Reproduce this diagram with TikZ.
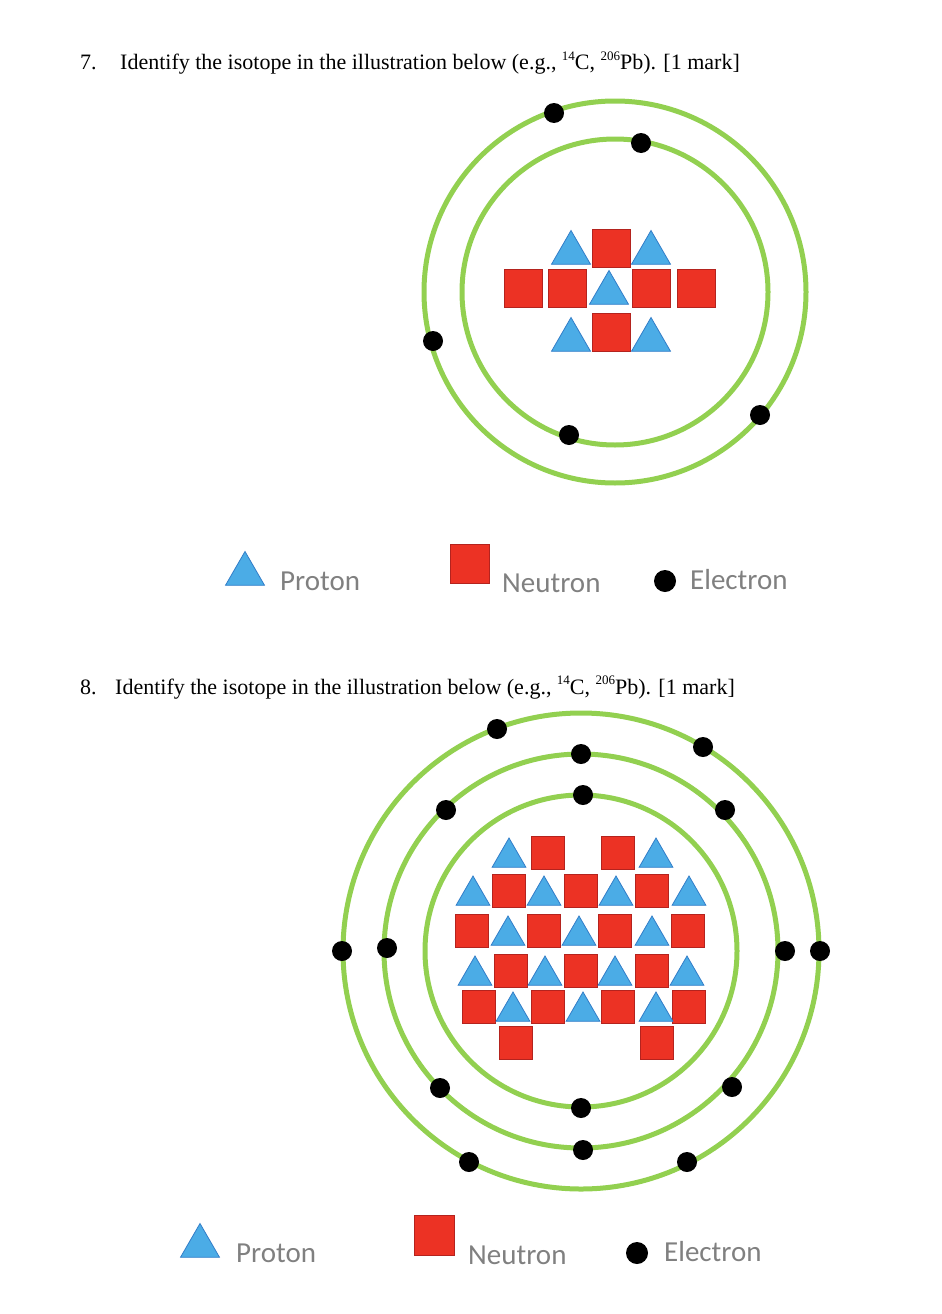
\documentclass[tikz,border=0pt]{standalone}
\usepackage{fontspec}
\setmainfont{Liberation Serif}
\newfontfamily\legfont{Carlito}
\usetikzlibrary{shapes.geometric}
\definecolor{orb}{RGB}{146,208,80}
\definecolor{pblue}{RGB}{75,172,230}
\definecolor{pblued}{RGB}{50,125,200}
\definecolor{nred}{RGB}{236,50,36}
\definecolor{nredd}{RGB}{180,35,30}
\definecolor{leg}{RGB}{128,128,128}
\newcommand{\sps}[1]{\raisebox{0.45em}{\fontsize{13}{14}\selectfont #1}}
\begin{document}
\begin{tikzpicture}[x=1pt,y=-1pt,
 orbit/.style={draw=orb,line width=5pt},
 elec/.style={circle,fill=black,inner sep=0,minimum size=20pt},
 protA/.style={regular polygon,regular polygon sides=3,fill=pblue,draw=pblued,line width=0.8pt,inner sep=0,minimum size=45pt,yshift=-5pt},
 neutA/.style={rectangle,fill=nred,draw=nredd,line width=0.8pt,inner sep=0,minimum size=38pt},
 protB/.style={regular polygon,regular polygon sides=3,fill=pblue,draw=pblued,line width=0.8pt,inner sep=0,minimum size=39pt,yshift=-4.5pt},
 neutB/.style={rectangle,fill=nred,draw=nredd,line width=0.8pt,inner sep=0,minimum size=33pt},
 qtext/.style={anchor=base west,inner sep=0,font=\fontsize{22}{26}\selectfont},
 legtext/.style={anchor=base west,inner sep=0,text=leg,font=\legfont\fontsize{29}{34}\selectfont}]
\useasboundingbox (0,0) rectangle (942,1314);
% Question 7
\node[qtext] (q7n) at (80,70) {7.};
\node[qtext] (q7) at (120,70) {Identify the isotope in the illustration below (e.g., \sps{14}C, \sps{206}Pb). [1 mark]};
\draw[orbit] (615,292) circle (191);
\draw[orbit] (615,292) circle (153);
\foreach \x/\y [count=\i] in {554/113,641/143,433/341,569/435,760/415} \node[elec] (ea\i) at (\x,\y) {};
\foreach \x/\y [count=\i] in {611/248,523/288,567/288,651/288,696/288,611/332} \node[neutA] (na\i) at (\x,\y) {};
\foreach \x/\y [count=\i] in {571/248,651/248,609/288,571/335,651/335} \node[protA] (pa\i) at (\x,\y) {};
% legend 1
\node[protA] (lp1) at (245,569) {};
\node[legtext] (lpt1) at (280,590) {Proton};
\node[neutA,minimum size=39pt] (ln1) at (470,564) {};
\node[legtext] (lnt1) at (502,592) {Neutron};
\node[elec,minimum size=22pt] (le1) at (665,581) {};
\node[legtext] (let1) at (690,589) {Electron};
% Question 8
\node[qtext] (q8n) at (80,694) {8.};
\node[qtext] (q8) at (115,694) {Identify the isotope in the illustration below (e.g., \sps{14}C, \sps{206}Pb). [1 mark]};
\draw[orbit] (581,951) circle (238);
\draw[orbit] (581,951) circle (197);
\draw[orbit] (581,951) circle (156);
\foreach \x/\y [count=\i] in {497/729,703/747,342/951,820/951,469/1162,687/1162,581/754,446/810,725/810,387/948,785/951,440/1088,732/1087,583/1150,583/795,581/1108} \node[elec] (eb\i) at (\x,\y) {};
\foreach \x/\y [count=\i] in {548/853,618/853,509/891,581/891,652/891,472/931,544/931,615/931,688/931,511/971,581/971,652/971,479/1007,548/1007,618/1007,689/1007,516/1043,657/1043} \node[neutB] (nb\i) at (\x,\y) {};
\foreach \x/\y [count=\i] in {509/853,656/853,473/891,544/891,616/891,689/891,508/931,579/931,652/931,475/971,545/971,615/971,687/971,513/1007,583/1007,656/1007} \node[protB] (pb\i) at (\x,\y) {};
% legend 2
\node[protA] (lp2) at (200,1241) {};
\node[legtext] (lpt2) at (236,1262) {Proton};
\node[neutA,minimum size=40pt] (ln2) at (434,1235) {};
\node[legtext] (lnt2) at (468,1264) {Neutron};
\node[elec,minimum size=22pt] (le2) at (637,1253) {};
\node[legtext] (let2) at (664,1261) {Electron};
\end{tikzpicture}
\end{document}
